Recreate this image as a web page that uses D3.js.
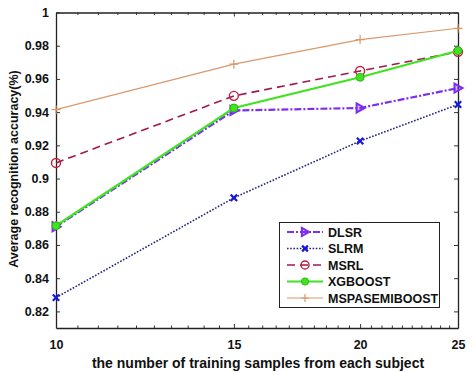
<!DOCTYPE html>
<html>
<head>
<meta charset="utf-8">
<script src="https://cdn.jsdelivr.net/npm/d3@7"></script>
<style>
  body { margin: 0; background: #fff; }
  text { font-family: "Liberation Sans", Arial, sans-serif; font-weight: bold; fill: #111; }
</style>
</head>
<body>
<svg id="chart" width="474" height="372"></svg>
<script>
// training samples per subject
var samples = [10, 15, 20, 25];

var dlsr  = [0.871, 0.941, 0.9425, 0.9545];
var slrm  = [0.8283, 0.8884, 0.9226, 0.9446];
var msrl  = [0.9094, 0.9498, 0.9648, 0.9763];
var xgb   = [0.8716, 0.9425, 0.961, 0.977];
var mspa  = [0.9415, 0.9689, 0.9837, 0.9905];

var seriesNames = ['DLSR', 'SLRM', 'MSRL', 'XGBOOST', 'MSPASEMIBOOST'];
var yTicks = [0.82, 0.84, 0.86, 0.88, 0.9, 0.92, 0.94, 0.96, 0.98, 1];

var styles = {
	DLSR:          {values: dlsr, color: '#7b2ff2', line: '#7b2ff2', dash: '7,2,2,2', width: 2.2, marker: 'tri'},
	SLRM:          {values: slrm, color: '#1818d8', line: '#23237e', dash: '1.6,1.6', width: 1.6, marker: 'x'},
	MSRL:          {values: msrl, color: '#c41e3a', line: '#a01850', dash: '8,5', width: 1.6, marker: 'circle'},
	XGBOOST:       {values: xgb,  color: '#3fe31f', line: '#3fe31f', dash: null, width: 2.2, marker: 'dot'},
	MSPASEMIBOOST: {values: mspa, color: '#d9996c', line: '#d9996c', dash: null, width: 1.2, marker: 'plus'}
};

var svg = d3.select('#chart');
// note: "top" is taken by window.top, so use plot* names
var plotLeft = 56, plotRight = 458, plotTop = 12.5, plotBottom = 328;

var x = d3.scaleLog().domain([10, 25]).range([plotLeft, plotRight]);
var y = d3.scaleLinear().domain([0.81, 1]).range([plotBottom, plotTop]);

// minor ticks every 0.5 along x (log spaced)
var minor = d3.range(10.5, 25, 0.5).filter(function(v){ return samples.indexOf(v) < 0; });

var g = svg.append('g');

// bottom axis
var xb = g.append('g').attr('transform', 'translate(0,' + plotBottom + ')')
	.call(d3.axisBottom(x).tickValues(samples).tickFormat(d3.format('d')).tickSizeInner(-4).tickSizeOuter(0).tickPadding(12));
xb.selectAll('text').style('font-size', '12.5px');
g.append('g').attr('transform', 'translate(0,' + plotBottom + ')')
	.call(d3.axisBottom(x).tickValues(minor).tickFormat('').tickSizeInner(-2.5).tickSizeOuter(0))
	.select('.domain').remove();

// top axis
g.append('g').attr('transform', 'translate(0,' + plotTop + ')')
	.call(d3.axisTop(x).tickValues(samples).tickFormat('').tickSizeInner(-4).tickSizeOuter(0));
g.append('g').attr('transform', 'translate(0,' + plotTop + ')')
	.call(d3.axisTop(x).tickValues(minor).tickFormat('').tickSizeInner(-2.5).tickSizeOuter(0))
	.select('.domain').remove();

// left axis
var yl = g.append('g').attr('transform', 'translate(' + plotLeft + ',0)')
	.call(d3.axisLeft(y).tickValues(yTicks).tickFormat(d3.format('~g')).tickSizeInner(-4).tickSizeOuter(0).tickPadding(7));
yl.selectAll('text').style('font-size', '12.5px');

// right axis
g.append('g').attr('transform', 'translate(' + plotRight + ',0)')
	.call(d3.axisRight(y).tickValues(yTicks).tickFormat('').tickSizeInner(-4).tickSizeOuter(0));

g.selectAll('.domain').attr('stroke', '#222').attr('stroke-width', 1.3);
g.selectAll('.tick line').attr('stroke', '#333');

// axis titles
svg.append('text')
	.attr('x', (plotLeft + plotRight) / 2 + 1).attr('y', 368)
	.attr('text-anchor', 'middle').style('font-size', '14px')
	.text('the number of training samples from each subject');

svg.append('text')
	.attr('transform', 'translate(18,169) rotate(-90)')
	.attr('text-anchor', 'middle').style('font-size', '12.5px')
	.text('Average recognition accuracy(%)');

function drawMarker(sel, type, color, cx, cy, s){
	if(type == 'tri'){
		sel.append('path')
			.attr('d', 'M' + (cx - 3.5*s) + ',' + (cy - 4.5*s) + 'L' + (cx + 4.5*s) + ',' + cy + 'L' + (cx - 3.5*s) + ',' + (cy + 4.5*s) + 'Z')
			.attr('fill', color).attr('fill-opacity', 0.35).attr('stroke', color).attr('stroke-width', 2);
	}else if(type == 'x'){
		var r = 3.2*s;
		sel.append('path')
			.attr('d', 'M' + (cx - r) + ',' + (cy - r) + 'L' + (cx + r) + ',' + (cy + r) + 'M' + (cx - r) + ',' + (cy + r) + 'L' + (cx + r) + ',' + (cy - r))
			.attr('stroke', color).attr('stroke-width', 2.2).attr('fill', 'none');
	}else if(type == 'circle'){
		sel.append('circle').attr('cx', cx).attr('cy', cy).attr('r', 4.5*s)
			.attr('fill', 'none').attr('stroke', color).attr('stroke-width', 1.4);
	}else if(type == 'dot'){
		sel.append('circle').attr('cx', cx).attr('cy', cy).attr('r', 4*s)
			.attr('fill', color).attr('stroke', '#2fb515').attr('stroke-width', 1);
	}else if(type == 'plus'){
		var p = 4.5*s;
		sel.append('path')
			.attr('d', 'M' + (cx - p) + ',' + cy + 'L' + (cx + p) + ',' + cy + 'M' + cx + ',' + (cy - p) + 'L' + cx + ',' + (cy + p))
			.attr('stroke', color).attr('stroke-width', 1.2).attr('fill', 'none');
	}
}

var line = d3.line()
	.x(function(d, i){ return x(samples[i]); })
	.y(function(d){ return y(d); });

var plot = svg.append('g');
seriesNames.forEach(function(name){
	var st = styles[name];
	var sg = plot.append('g');
	sg.append('path').datum(st.values)
		.attr('d', line)
		.attr('fill', 'none')
		.attr('stroke', st.line)
		.attr('stroke-width', st.width)
		.attr('stroke-dasharray', st.dash);
	st.values.forEach(function(v, i){
		drawMarker(sg, st.marker, st.color, x(samples[i]), y(v), 1);
	});
});

// legend
var lg = svg.append('g');
lg.append('rect').attr('x', 279.5).attr('y', 222.5).attr('width', 160).attr('height', 85)
	.attr('fill', '#fff').attr('stroke', '#222').attr('stroke-width', 1);
seriesNames.forEach(function(name, i){
	var st = styles[name];
	var ly = 232 + i * 16.5;
	lg.append('line').attr('x1', 287).attr('x2', 323).attr('y1', ly).attr('y2', ly)
		.attr('stroke', st.line).attr('stroke-width', st.width)
		.attr('stroke-dasharray', st.dash);
	drawMarker(lg, st.marker, st.color, 305, ly, 0.9);
	lg.append('text').attr('x', 328).attr('y', ly + 4.5)
		.style('font-size', '12.5px').text(name);
});
</script>
</body>
</html>
